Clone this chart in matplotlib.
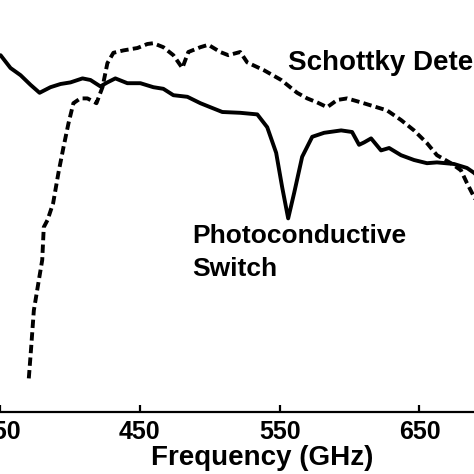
import matplotlib
matplotlib.use("Agg")
import matplotlib.pyplot as plt

# frekvencia (GHz) és relatív jelszint (dB) értékek
freq_switch = [350.4, 357.5, 364.7, 371.8, 378.3, 386.1, 393.3, 400.4, 409.0, 414.7,
               421.8, 426.8, 432.5, 441.1, 450.4, 459.7, 466.8, 474.0, 484.0, 493.3,
               500.4, 509.0, 521.8, 534.0, 541.1, 547.5, 551.8, 556.1, 560.4, 566.1,
               573.3, 581.8, 594.0, 601.8, 606.8, 610.4, 615.4, 622.5, 628.3, 636.8,
               646.1, 655.4, 662.5, 674.7, 684.0, 689.0, 693.0]
level_switch = [-6.9, -8.5, -9.4, -10.6, -11.6, -10.9, -10.5, -10.3, -9.8, -10.0,
                -10.8, -10.3, -9.8, -10.4, -10.4, -10.9, -11.1, -11.9, -12.1, -12.9,
                -13.4, -14.0, -14.1, -14.3, -15.9, -19.1, -23.4, -27.3, -24.1, -19.6,
                -17.1, -16.6, -16.3, -16.5, -18.1, -17.8, -17.3, -18.8, -18.5, -19.4,
                -20.0, -20.4, -20.3, -20.5, -21.0, -21.6, -22.3]

freq_schottky = [370.6, 372.3, 374.2, 377.8, 380.2, 381.3, 384.0, 388.0, 391.8, 395.4,
                 399.0, 402.5, 407.5, 412.5, 419.0, 423.3, 426.8, 431.1, 438.3, 448.3,
                 455.4, 459.7, 466.8, 474.0, 480.4, 484.7, 493.3, 499.0, 507.5, 513.3,
                 521.8, 526.8, 539.0, 551.1, 562.5, 569.7, 576.8, 584.0, 591.1, 598.3,
                 608.2, 617.5, 626.8, 636.8, 646.1, 655.4, 662.5, 672.5, 679.7, 684.0,
                 689.0, 693.3]
level_schottky = [-47.3, -43.4, -38.8, -35.0, -32.5, -28.4, -27.5, -25.4, -21.6, -18.4,
                  -15.4, -12.9, -12.3, -12.3, -12.9, -10.9, -7.9, -6.6, -6.3, -6.0,
                  -5.5, -5.4, -5.9, -6.9, -8.5, -6.5, -5.9, -5.6, -6.5, -6.9,
                  -6.5, -7.8, -8.8, -10.0, -11.6, -12.3, -12.8, -13.4, -12.5, -12.3,
                  -12.8, -13.3, -13.8, -15.0, -16.3, -17.9, -19.4, -20.4, -21.3, -22.9,
                  -24.6, -26.3]

x_ticks = [350, 450, 550, 650]

plt.rcParams['font.family'] = ['Liberation Sans', 'DejaVu Sans']
plt.rcParams['font.weight'] = 'bold'

fig = plt.figure(figsize=(4.74, 4.74), dpi=100)
ax = fig.add_axes([0.0, 1 - 412 / 474, 1.0, 412 / 474])

ax.plot(freq_switch, level_switch, color='black', linewidth=2.8,
        solid_joinstyle='round', solid_capstyle='round')
ax.plot(freq_schottky, level_schottky, color='black', linewidth=2.8,
        linestyle=(0, (2.15, 1.1)))

ax.set_xlim(350.4, 689.0)
ax.set_ylim(-51.5, 0)

for side in ['top', 'left', 'right']:
    ax.spines[side].set_visible(False)  # csak az alsó tengely látszik
ax.spines['bottom'].set_linewidth(1.6)

ax.set_xticks(x_ticks)
ax.set_xticklabels([str(t) for t in x_ticks], fontsize=18, fontweight='bold')
ax.tick_params(axis='x', direction='in', length=5, width=1.6, pad=6)
ax.set_yticks([])

ax.text(556.1, -8.75, 'Schottky Detector', fontsize=20, fontweight='bold',
        va='baseline', ha='left', clip_on=False)
ax.text(487.3, -30.4, 'Photoconductive', fontsize=19, fontweight='bold',
        va='baseline', ha='left')
ax.text(487.3, -34.5, 'Switch', fontsize=19, fontweight='bold',
        va='baseline', ha='left')

fig.text(262 / 474, 1 - 465 / 474, 'Frequency (GHz)', fontsize=20, fontweight='bold',
         ha='center', va='baseline')

fig.savefig('out.png', dpi=100)
